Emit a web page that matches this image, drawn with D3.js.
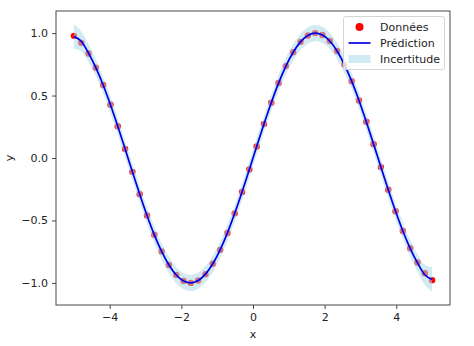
<!DOCTYPE html>
<html>
<head>
<meta charset="utf-8">
<script src="https://cdn.jsdelivr.net/npm/d3@7"></script>
<style>
  body { margin: 0; background: #fff; }
  svg { display: block; font-family: 'DejaVu Sans', sans-serif; }
</style>
</head>
<body>
<div id="chart"></div>
<script>
// sample positions (50 evenly spaced points)
const xs = [-5.000, -4.796, -4.592, -4.388, -4.184, -3.980, -3.776, -3.571, -3.367, -3.163,
            -2.959, -2.755, -2.551, -2.347, -2.143, -1.939, -1.735, -1.531, -1.327, -1.122,
            -0.918, -0.714, -0.510, -0.306, -0.102, 0.102, 0.306, 0.510, 0.714, 0.918,
            1.122, 1.327, 1.531, 1.735, 1.939, 2.143, 2.347, 2.551, 2.755, 2.959,
            3.163, 3.367, 3.571, 3.776, 3.980, 4.184, 4.388, 4.592, 4.796, 5.000];
// observed values (red dots)
const observed = [0.978, 0.922, 0.837, 0.723, 0.584, 0.426, 0.254, 0.073, -0.111, -0.290,
                  -0.460, -0.615, -0.748, -0.857, -0.937, -0.985, -1.000, -0.981, -0.930, -0.847,
                  -0.736, -0.600, -0.443, -0.272, -0.092, 0.092, 0.272, 0.443, 0.600, 0.736,
                  0.847, 0.930, 0.981, 1.000, 0.985, 0.937, 0.857, 0.748, 0.615, 0.460,
                  0.290, 0.111, -0.073, -0.254, -0.426, -0.584, -0.723, -0.837, -0.922, -0.978];
// predicted mean (blue line)
const predicted = [0.972, 0.935, 0.840, 0.723, 0.584, 0.426, 0.254, 0.073, -0.111, -0.290,
                   -0.460, -0.615, -0.748, -0.857, -0.937, -0.985, -1.000, -0.981, -0.930, -0.847,
                   -0.736, -0.600, -0.443, -0.272, -0.092, 0.092, 0.272, 0.443, 0.600, 0.736,
                   0.847, 0.930, 0.981, 1.000, 0.985, 0.937, 0.857, 0.748, 0.615, 0.460,
                   0.290, 0.111, -0.073, -0.254, -0.426, -0.584, -0.723, -0.840, -0.935, -0.972];
// half width of the uncertainty band
const halfWidth = [0.098, 0.080, 0.070, 0.066, 0.065, 0.065, 0.065, 0.065, 0.065, 0.065,
                   0.065, 0.065, 0.065, 0.065, 0.065, 0.065, 0.065, 0.065, 0.065, 0.065,
                   0.065, 0.065, 0.065, 0.065, 0.065, 0.065, 0.065, 0.065, 0.065, 0.065,
                   0.065, 0.065, 0.065, 0.065, 0.065, 0.065, 0.065, 0.065, 0.065, 0.065,
                   0.065, 0.065, 0.065, 0.065, 0.065, 0.065, 0.066, 0.070, 0.080, 0.098];
const xTicks = [-4, -2, 0, 2, 4];
const yTicks = [-1.0, -0.5, 0.0, 0.5, 1.0];
const legendLabels = ['Données', 'Prédiction', 'Incertitude'];

class BandChart {

    constructor(opts) {
        this.element = opts.element;
        this.data = xs.map((x, i) => ({
            x: x, obs: observed[i], pred: predicted[i],
            lo: predicted[i] - halfWidth[i], hi: predicted[i] + halfWidth[i]
        }));
        this.draw();
    }

    draw() {
        this.width = 474;
        this.height = 346;
        // axes box
        this.box = { left: 56, right: 450, top: 11, bottom: 305 };
        this.svg = d3.select(this.element).append('svg')
            .attr('width', this.width)
            .attr('height', this.height);
        this.svg.append('rect')
            .attr('width', this.width).attr('height', this.height)
            .attr('fill', '#fff');
        this.createScales();
        this.addDots();
        this.addBand();
        this.addLine();
        this.addAxes();
        this.addLegend();
        this.addLabels();
    }

    createScales() {
        // pad 5% on each side like matplotlib autoscale
        const xe = d3.extent(this.data, d => d.x);
        const xp = (xe[1] - xe[0]) * 0.05;
        this.x = d3.scaleLinear()
            .domain([xe[0] - xp, xe[1] + xp])
            .range([this.box.left, this.box.right]);

        const ymin = d3.min(this.data, d => Math.min(d.lo, d.obs));
        const ymax = d3.max(this.data, d => Math.max(d.hi, d.obs));
        const yp = (ymax - ymin) * 0.05;
        this.y = d3.scaleLinear()
            .domain([ymin - yp, ymax + yp])
            .range([this.box.bottom, this.box.top]);
    }

    addDots() {
        this.svg.append('g')
            .selectAll('circle')
            .data(this.data)
            .enter()
            .append('circle')
            .attr('cx', d => this.x(d.x))
            .attr('cy', d => this.y(d.obs))
            .attr('r', 3.2)
            .attr('fill', '#ff0000');
    }

    addBand() {
        const area = d3.area()
            .x(d => this.x(d.x))
            .y0(d => this.y(d.lo))
            .y1(d => this.y(d.hi))
            .curve(d3.curveMonotoneX);
        this.svg.append('path')
            .datum(this.data)
            .attr('d', area)
            .attr('fill', '#add8e6')
            .attr('fill-opacity', 0.55);
    }

    addLine() {
        const line = d3.line()
            .x(d => this.x(d.x))
            .y(d => this.y(d.pred))
            .curve(d3.curveMonotoneX);
        this.svg.append('path')
            .datum(this.data)
            .attr('d', line)
            .attr('fill', 'none')
            .attr('stroke', '#0000e6')
            .attr('stroke-width', 1.7);
    }

    addAxes() {
        const xAxis = this.svg.append('g')
            .attr('transform', `translate(0,${this.box.bottom})`)
            .call(d3.axisBottom(this.x).tickValues(xTicks).tickSize(4).tickPadding(4)
                .tickFormat(d => d3.format('d')(d).replace('-', '\u2212')));
        const yAxis = this.svg.append('g')
            .attr('transform', `translate(${this.box.left},0)`)
            .call(d3.axisLeft(this.y).tickValues(yTicks).tickSize(4).tickPadding(4)
                .tickFormat(d => d3.format('.1f')(d).replace('-', '\u2212')));
        [xAxis, yAxis].forEach(a => {
            a.select('.domain').remove();
            a.selectAll('line').attr('stroke', '#333').attr('stroke-width', 0.9);
            a.selectAll('text').attr('fill', '#222').style('font-size', '11px')
                .style('font-family', "'DejaVu Sans', sans-serif");
        });
        // frame
        this.svg.append('rect')
            .attr('x', this.box.left).attr('y', this.box.top)
            .attr('width', this.box.right - this.box.left)
            .attr('height', this.box.bottom - this.box.top)
            .attr('fill', 'none')
            .attr('stroke', '#333')
            .attr('stroke-width', 0.9);
    }

    addLegend() {
        const lg = this.svg.append('g').attr('transform', 'translate(343.5,16.5)');
        lg.append('rect')
            .attr('width', 101).attr('height', 53).attr('rx', 2.5)
            .attr('fill', '#fff').attr('fill-opacity', 0.8)
            .attr('stroke', '#d0d0d0').attr('stroke-width', 0.9);
        const rowY = [10.5, 26.5, 42.5];
        lg.append('circle').attr('cx', 16).attr('cy', rowY[0]).attr('r', 4).attr('fill', '#ff0000');
        lg.append('line').attr('x1', 5).attr('x2', 27).attr('y1', rowY[1]).attr('y2', rowY[1])
            .attr('stroke', '#0000e6').attr('stroke-width', 1.7);
        lg.append('rect').attr('x', 5).attr('y', rowY[2] - 4).attr('width', 22).attr('height', 8)
            .attr('fill', '#add8e6').attr('fill-opacity', 0.55);
        lg.selectAll('text.lab')
            .data(legendLabels)
            .enter()
            .append('text')
            .attr('class', 'lab')
            .attr('x', 36.5)
            .attr('y', (d, i) => rowY[i])
            .attr('dy', '0.36em')
            .attr('fill', '#222')
            .style('font-size', '11px')
            .text(d => d);
    }

    addLabels() {
        this.svg.append('text')
            .attr('x', (this.box.left + this.box.right) / 2)
            .attr('y', 338)
            .attr('text-anchor', 'middle')
            .attr('fill', '#222')
            .style('font-size', '11px')
            .text('x');
        this.svg.append('text')
            .attr('transform', `translate(13,${(this.box.top + this.box.bottom) / 2}) rotate(-90)`)
            .attr('text-anchor', 'middle')
            .attr('fill', '#222')
            .style('font-size', '11px')
            .text('y');
    }
}

new BandChart({ element: '#chart' });
</script>
</body>
</html>
